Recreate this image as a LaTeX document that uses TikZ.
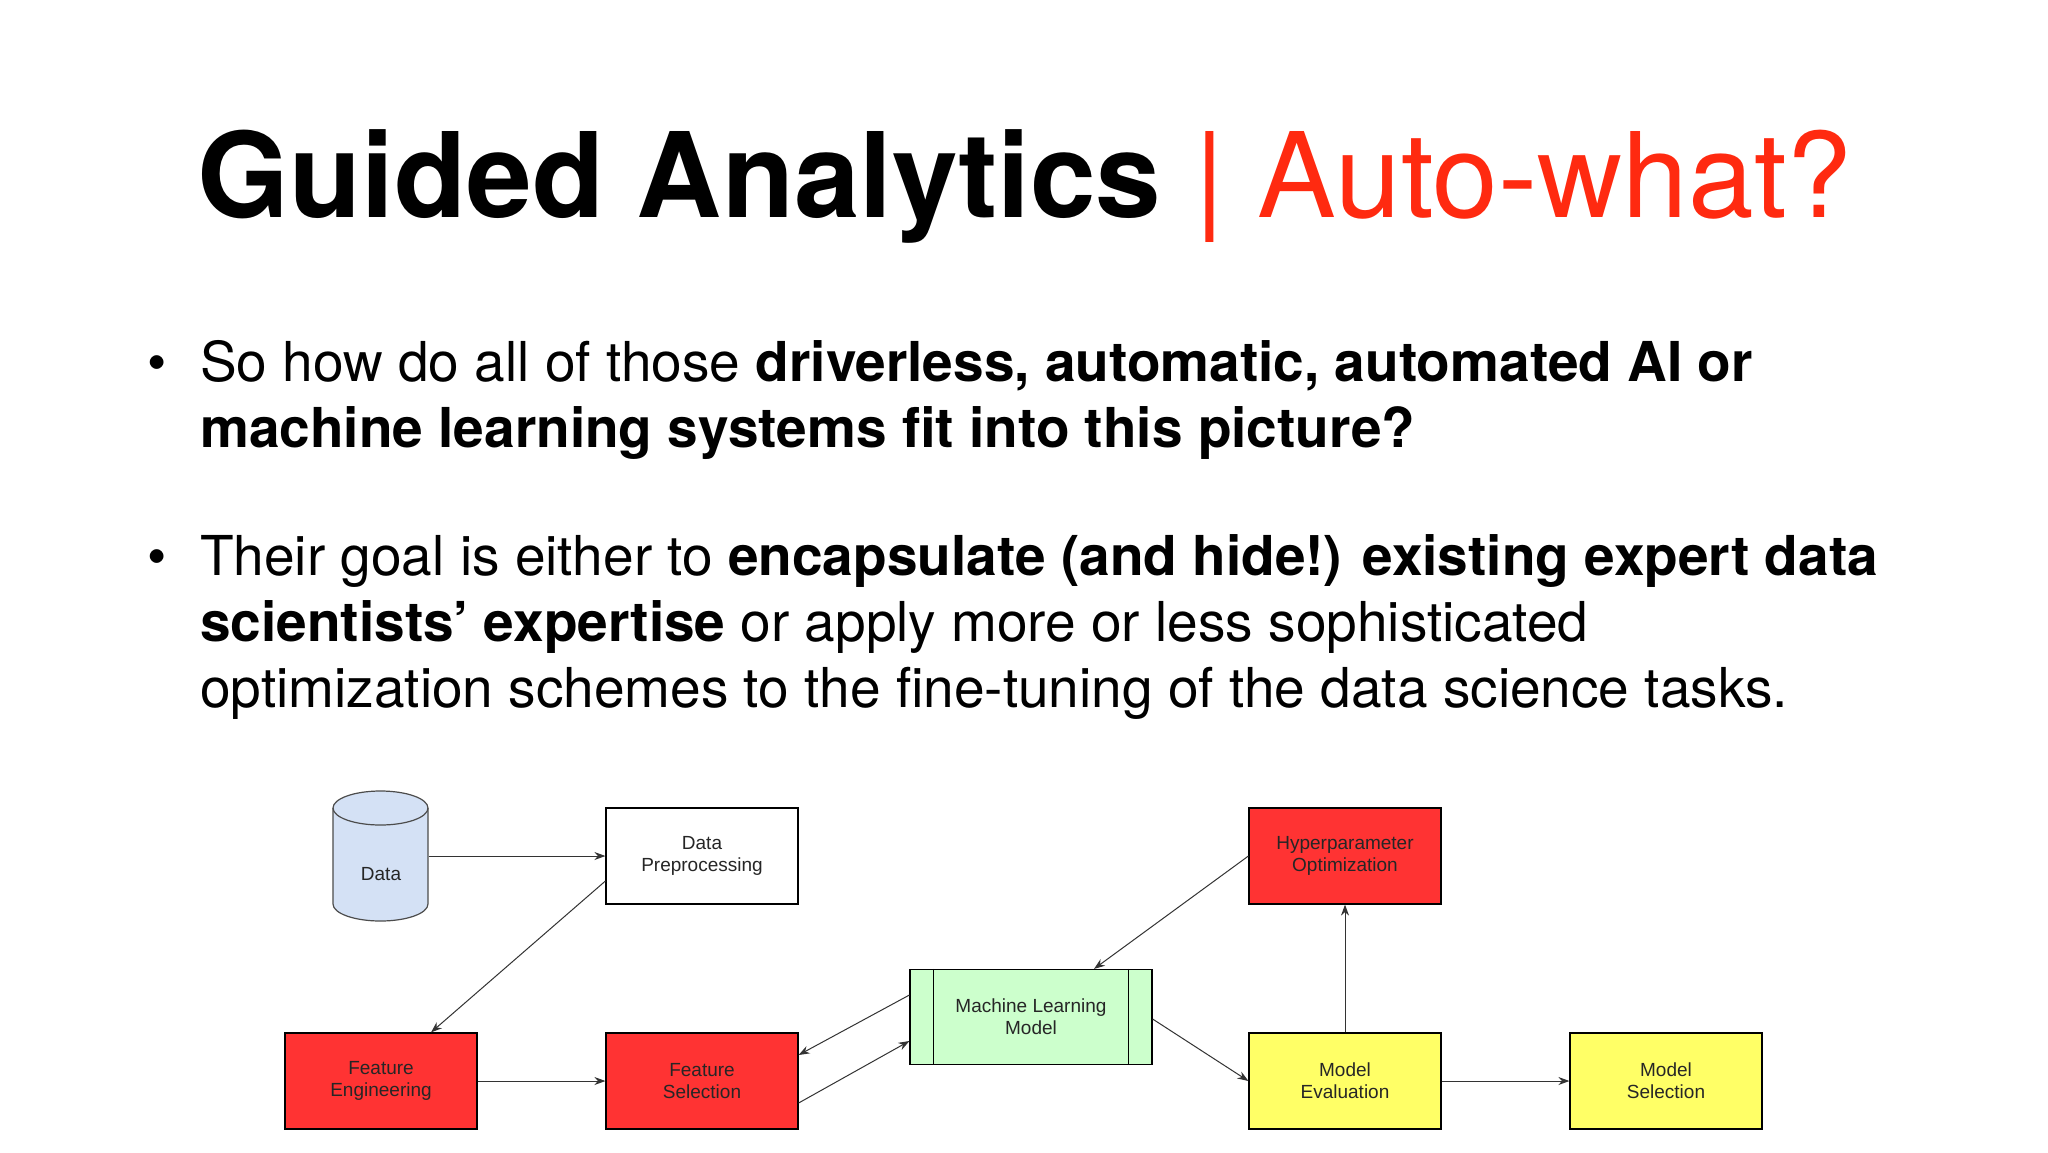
\documentclass[tikz,border=0pt]{standalone}
\usepackage{fontspec}
\setmainfont{TeX Gyre Heros}
\newfontfamily\arial{Liberation Sans}
\usetikzlibrary{shapes.geometric,arrows.meta}
\definecolor{tred}{HTML}{FF2A10}
\definecolor{bred}{HTML}{FF3333}
\definecolor{byel}{HTML}{FFFF66}
\definecolor{bgrn}{HTML}{CCFFCC}
\definecolor{bblu}{HTML}{D4E1F5}
\begin{document}
\begin{tikzpicture}[x=1pt,y=-1pt,
  box/.style={draw=black,line width=1.2pt,minimum width=192pt,minimum height=96pt,align=center,font=\arial\fontsize{19}{22}\selectfont,inner sep=2pt,text=black!85},
  conn/.style={-{Stealth[length=11pt,width=8pt]},line width=1pt,draw=black!80}]
\useasboundingbox (0,0) rectangle (2048,1152);
\fill[white] (0,0) rectangle (2048,1152);
\node (title) at (1025,186) {\fontsize{118}{130}\selectfont\textbf{Guided Analytics} \textcolor{tred}{| Auto-what?}};
\node[anchor=base west,align=left,font=\fontsize{55}{66}\selectfont,inner sep=0pt] (b1) at (200,381) {\begin{tabular}[t]{@{}l@{}}So how do all of those \textbf{driverless, automatic, automated AI or}\\ \textbf{machine learning systems fit into this picture?}\end{tabular}};
\node[anchor=base,font=\fontsize{55}{66}\selectfont] (d1) at (157,381) {•};
\node[anchor=base west,align=left,font=\fontsize{55}{66}\selectfont,inner sep=0pt] (b2) at (200,575) {\begin{tabular}[t]{@{}l@{}}Their goal is either to \textbf{encapsulate (and hide!) existing expert data}\\ \textbf{scientists’ expertise} or apply more or less sophisticated\\ optimization schemes to the fine-tuning of the data science tasks.\end{tabular}};
\node[anchor=base,font=\fontsize{55}{66}\selectfont] (d2) at (157,575) {•};
% cylinder
\draw[draw=black!70,line width=1.2pt,fill=bblu] (333,808) -- (333,904) arc[start angle=180,end angle=360,x radius=47.5,y radius=-17] -- (428,808) arc[start angle=0,end angle=180,x radius=47.5,y radius=-17];
\draw[draw=black!70,line width=1.2pt] (333,808) arc[start angle=180,end angle=360,x radius=47.5,y radius=-17];
\node[minimum width=95pt,minimum height=130pt,inner sep=0pt] (data) at (381,856) {};
\node[font=\arial\fontsize{19}{22}\selectfont,text=black!85] (datal) at (381,874) {Data};
\node[box,fill=white] (dp) at (702,856) {Data\\Preprocessing};
\node[box,fill=bred] (hp) at (1345,856) {Hyperparameter\\Optimization};
\node[box,fill=bgrn,minimum width=242pt,minimum height=95pt] (ml) at (1031,1017) {Machine Learning\\Model};
\draw[line width=1.2pt] ([xshift=24pt]ml.north west) -- ([xshift=24pt]ml.south west);
\draw[line width=1.2pt] ([xshift=-24pt]ml.north east) -- ([xshift=-24pt]ml.south east);
\node[box,fill=bred] (fe) at (381,1081) {Feature\\Engineering};
\node[box,fill=bred] (fs) at (702,1081) {Feature\\Selection};
\node[box,fill=byel] (me) at (1345,1081) {Model\\Evaluation};
\node[box,fill=byel] (ms) at (1666,1081) {Model\\Selection};
\draw[conn] (data.east) -- (dp.west);
\draw[conn] ([yshift=-25pt]dp.west) -- ([xshift=50pt]fe.north);
\draw[conn] (fe.east) -- (fs.west);
\draw[conn] ([yshift=-22pt]fs.east) -- ([yshift=-24pt]ml.west);
\draw[conn] ([yshift=22pt]ml.west) -- ([yshift=26pt]fs.east);
\draw[conn] (hp.west) -- ([xshift=63pt]ml.north);
\draw[conn] ([yshift=-2pt]ml.east) -- (me.west);
\draw[conn] (me.north) -- (hp.south);
\draw[conn] (me.east) -- (ms.west);
\end{tikzpicture}
\end{document}
